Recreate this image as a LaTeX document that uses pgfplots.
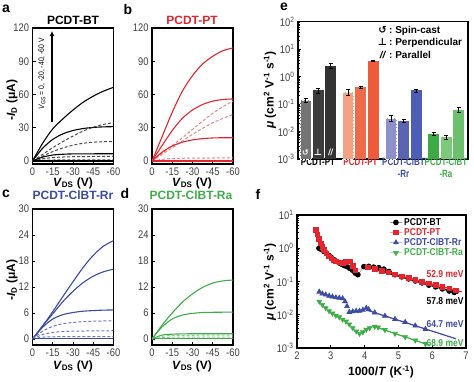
\documentclass[border=0pt]{standalone}
\usepackage{pgfplots}
\pgfplotsset{compat=1.18}
\usetikzlibrary{arrows.meta}
\usepackage{fontspec}
\setmainfont{Liberation Sans}
\newfontfamily\cf[FakeStretch=0.85]{Liberation Sans}
\newfontfamily\ccf[FakeStretch=0.76]{Liberation Sans}
\newfontfamily\dvs{DejaVu Sans}
\definecolor{cred}{HTML}{E3262D}
\definecolor{cpink}{HTML}{EC8585}
\definecolor{cblue}{HTML}{3B4BA3}
\definecolor{cblueL}{HTML}{6F78C2}
\definecolor{cgreen}{HTML}{3FAE49}
\definecolor{cgreenL}{HTML}{86CF8A}
\definecolor{tk}{HTML}{404040}
\definecolor{g1a}{HTML}{747474}
\definecolor{g1b}{HTML}{3C3C3C}
\definecolor{g1c}{HTML}{333333}
\definecolor{g2a}{HTML}{F3A383}
\definecolor{g2b}{HTML}{EE6B4A}
\definecolor{g2c}{HTML}{EE5B3A}
\definecolor{g3a}{HTML}{8C91CC}
\definecolor{g3b}{HTML}{5A64B0}
\definecolor{g3c}{HTML}{4D5DB5}
\definecolor{g4a}{HTML}{3DAA46}
\definecolor{g4b}{HTML}{7DC97B}
\definecolor{g4c}{HTML}{6CBF6C}
\newcommand{\tf}{\cf\fontsize{11}{11}\selectfont}
\newcommand{\lf}{\bfseries\fontsize{12}{12}\selectfont}
\newcommand{\pf}{\bfseries\fontsize{14}{14}\selectfont}
\pgfplotsset{
  base/.style={scale only axis, tick pos=left, tick align=inside, major tick length=3pt, minor tick length=1.8pt,
    axis line style={line width=1.1pt, black}, every tick/.style={black, line width=0.7pt},
    ticklabel style={font=\tf, text=tk}, clip=true},
  ivax/.style={base, width=81pt, height=136pt, xmin=0, xmax=60,
    xtick={0,15,30,45,60}, xticklabels={0,-15,-30,-45,-60}},
  topr/.style={ymin=-2.7, ymax=120, ytick={0,30,60,90,120}, yticklabels={0,30,60,90,120}},
  botr/.style={ymin=-1.4, ymax=30, ytick={0,6,12,18,24,30}, yticklabels={0,6,12,18,24,30}},
  sl/.style={smooth, line width=1.1pt, #1},
  dl/.style={smooth, line width=1.0pt, dash pattern=on 3pt off 2pt, #1},
  ebar/.style={ybar, bar width=11pt, bar shift=0pt, fill=#1, error bars/.cd, y dir=both, y explicit,
    error bar style={black, solid, line width=0.8pt}, error mark options={rotate=90, black, solid, mark size=2pt, line width=0.8pt}},
}
\begin{document}
\begin{tikzpicture}
\useasboundingbox (0,0) rectangle (474pt,-381pt);
% ---------- a ----------
\begin{axis}[ivax, topr, at={(32.5pt,-164pt)}, anchor=south west]
\addplot[sl=black] coordinates {(0,0)(7.5,16)(15,29)(22.5,38)(30,46)(37.5,53)(45,58.5)(52.5,63)(60,66.5)};
\addplot[sl=black] coordinates {(0,0)(7.5,11.5)(15,19.5)(22.5,24.5)(30,27.5)(37.5,29.3)(45,30.3)(52.5,30.8)(60,31)};
\addplot[dl=black!70] coordinates {(0,0)(7.5,6)(15,12)(22.5,17.5)(30,22.5)(37.5,27)(45,30.5)(52.5,33)(60,34.6)};
\addplot[dl=black!70] coordinates {(0,0)(7.5,4.5)(15,8.5)(22.5,11.8)(30,14.3)(37.5,16)(45,17)(52.5,17.4)(60,17.6)};
\addplot[sl=black] coordinates {(0,0)(7.5,3.5)(15,5.4)(22.5,6.1)(30,6.4)(45,6.5)(60,6.6)};
\addplot[dl=black!70] coordinates {(0,0)(7.5,2)(15,3.1)(22.5,3.6)(30,3.9)(45,4.1)(60,4.2)};
\addplot[dl=black!70] coordinates {(0,0)(7.5,0.6)(15,0.9)(30,1.0)(60,1.1)};
\addplot[sl=black] coordinates {(0,0)(60,0)};
\end{axis}
% ---------- b ----------
\begin{axis}[ivax, topr, at={(152pt,-164pt)}, anchor=south west]
\addplot[sl=cred] coordinates {(0,0)(7.5,22)(15,44)(22.5,63)(30,77)(37.5,87.5)(45,94.5)(52.5,99.5)(60,102)};
\addplot[sl=cred] coordinates {(0,0)(7.5,14)(15,27.5)(22.5,38.5)(30,46)(37.5,51)(45,54)(52.5,55.5)(60,56)};
\addplot[dl=cpink] coordinates {(0,0)(7.5,7)(15,14)(22.5,21)(30,28.5)(37.5,36)(45,43)(52.5,49)(60,54)};
\addplot[dl=cpink] coordinates {(0,0)(7.5,6)(15,12)(22.5,18)(30,24)(37.5,29.5)(45,34.5)(52.5,38.5)(60,42)};
\addplot[sl=cred] coordinates {(0,0)(7.5,8)(15,13.5)(22.5,17)(30,19)(37.5,20.2)(45,20.8)(52.5,21)(60,21)};
\addplot[dl=cpink] coordinates {(0,0)(7.5,1.5)(15,2.2)(30,2.6)(60,2.8)};
\addplot[sl=cred] coordinates {(0,0)(60,0)};
\end{axis}
% ---------- c ----------
\begin{axis}[ivax, botr, at={(32.5pt,-345pt)}, anchor=south west]
\addplot[sl=cblue] coordinates {(0,0)(7.5,3)(15,6.3)(22.5,9.8)(30,13.2)(37.5,16.5)(45,19.3)(52.5,21.4)(60,22.7)};
\addplot[sl=cblue] coordinates {(0,0)(7.5,3)(15,5.8)(22.5,8.6)(30,11)(37.5,13)(45,14.5)(52.5,15.5)(60,16.1)};
\addplot[sl=cblue] coordinates {(0,0)(7.5,2.7)(15,4.6)(22.5,5.6)(30,6.1)(37.5,6.4)(45,6.55)(52.5,6.65)(60,6.7)};
\addplot[dl=cblueL] coordinates {(0,0)(7.5,1.8)(15,2.9)(22.5,3.5)(30,3.8)(37.5,4)(45,4.1)(60,4.2)};
\addplot[dl=cblueL] coordinates {(0,0)(7.5,1)(15,1.5)(22.5,1.7)(30,1.8)(60,1.9)};
\addplot[dl=cblueL] coordinates {(0,0)(7.5,0.4)(15,0.5)(60,0.55)};
\addplot[sl=cblue] coordinates {(0,0)(60,0)};
\end{axis}
% ---------- d ----------
\begin{axis}[ivax, botr, at={(152pt,-345pt)}, anchor=south west]
\addplot[sl=cgreen] coordinates {(0,0)(7.5,3.2)(15,6)(22.5,8.5)(30,10.4)(37.5,11.9)(45,12.9)(52.5,13.4)(60,13.6)};
\addplot[sl=cgreen] coordinates {(0,0)(7.5,2.8)(15,4.6)(22.5,5.5)(30,5.9)(37.5,6.1)(45,6.15)(60,6.2)};
\addplot[sl=cgreen] coordinates {(0,0)(7.5,0.9)(15,1.1)(30,1.2)(60,1.2)};
\addplot[dl=cgreenL] coordinates {(0,0)(7.5,0.6)(15,0.8)(60,0.9)};
\addplot[dl=cgreenL] coordinates {(0,0)(7.5,0.3)(15,0.4)(60,0.45)};
\addplot[sl=cgreen] coordinates {(0,0)(60,0)};
\end{axis}
% ---------- e ----------
\begin{axis}[base, at={(298pt,-159pt)}, anchor=south west, width=170pt, height=137.5pt,
  ymode=log, ymin=1e-3, ymax=100, log origin y=infty, xmin=0, xmax=170,
  ytick={1e-3,1e-2,1e-1,1,10,100},
  yticklabels={10\textsuperscript{-3},10\textsuperscript{-2},10\textsuperscript{-1},10\textsuperscript{0},10\textsuperscript{1},10\textsuperscript{2}},
  xtick={20,62.5,105.5,148}, xtick style={draw=none},
  xticklabels={\textcolor{black}{PCDT-PT},\textcolor{cred}{PCDT-PT},{\textcolor{cblue}{PCDT-ClBT}\\\textcolor{cblue}{-Rr}},{\textcolor{cgreen}{PCDT-ClBT}\\\textcolor{cgreen}{-Ra}}},
  xticklabel style={font=\ccf\bfseries\fontsize{10.5}{12}\selectfont, align=center, yshift=2pt, inner sep=0.5pt},
]
\addplot[draw=white!80, densely dotted, ebar=g1a] coordinates {(7.5,0.135) +- (0,0.025)};
\addplot[draw=none, ebar=g1b] coordinates {(20,0.31) +- (0,0.06)};
\addplot[draw=none, ebar=g1c] coordinates {(32.5,2.5) +- (0,0.5)};
\addplot[draw=white!80, densely dotted, ebar=g2a] coordinates {(50,0.27) +- (0,0.06)};
\addplot[draw=none, ebar=g2b] coordinates {(62.5,0.41) +- (0,0.03)};
\addplot[draw=none, ebar=g2c] coordinates {(75,3.8) +- (0,0.2)};
\addplot[draw=white!80, densely dotted, ebar=g3a] coordinates {(93,0.030) +- (0,0.007)};
\addplot[draw=none, ebar=g3b] coordinates {(105.5,0.025) +- (0,0.003)};
\addplot[draw=none, ebar=g3c] coordinates {(118,0.31) +- (0,0.04)};
\addplot[draw=none, ebar=g4a] coordinates {(135.5,0.0081) +- (0,0.0008)};
\addplot[draw=none, ebar=g4b] coordinates {(148,0.0063) +- (0,0.0012)};
\addplot[draw=none, ebar=g4c] coordinates {(160.5,0.062) +- (0,0.012)};
\node[text=white, font=\dvs\bfseries\fontsize{8}{8}\selectfont] at (axis cs:7.5,0.0017) {↺};
\node[text=white, font=\dvs\bfseries\fontsize{9}{9}\selectfont] at (axis cs:20,0.0017) {⊥};
\node[text=white, font=\cf\bfseries\itshape\fontsize{9}{9}\selectfont] at (axis cs:32.5,0.0017) {//};
\end{axis}
% ---------- f ----------
\begin{axis}[base, at={(297pt,-348pt)}, anchor=south west, width=169pt, height=133pt,
  ymode=log, ymin=1e-3, ymax=10, xmin=2, xmax=7,
  xtick={2,3,4,5,6,7}, xticklabels={2,3,4,5,6,7},
  ytick={1e-3,1e-2,1e-1,1,10},
  yticklabels={10\textsuperscript{-3},10\textsuperscript{-2},10\textsuperscript{-1},10\textsuperscript{0},10\textsuperscript{1}},
  legend style={draw=none, fill=none, at={(1,1)}, anchor=north east, inner sep=1pt,
    font=\cf\bfseries\fontsize{10}{10}\selectfont, row sep=-2.5pt},
  legend cell align=left,
  legend image code/.code={\draw[mark repeat=2, mark phase=2, #1] plot coordinates {(0pt,0pt) (6pt,0pt) (12pt,0pt)};},
]
\addplot[draw=black!40, line width=0.6pt, mark=*, mark size=2.5pt, mark options={fill=black, draw=black, solid}] coordinates {
(2.65,1.00)(2.72,0.92)(2.80,0.80)(2.87,0.72)(2.95,0.60)(3.02,0.52)(3.10,0.45)(3.17,0.40)(3.25,0.36)(3.32,0.33)(3.40,0.30)(3.48,0.28)(3.56,0.25)(3.64,0.22)(3.72,0.18)(3.80,0.16)
(3.98,0.28)(4.12,0.285)(4.27,0.27)(4.42,0.26)(4.57,0.235)(4.72,0.20)(4.90,0.16)(5.10,0.138)(5.30,0.12)(5.50,0.104)(5.70,0.091)(5.90,0.078)(6.10,0.069)(6.30,0.060)(6.50,0.052)(6.65,0.047)};
\addplot[draw=cred!40, line width=0.6pt, mark=square*, mark size=2.3pt, mark options={fill=cred, draw=cred, solid}] coordinates {
(2.55,3.6)(2.60,2.6)(2.65,1.9)(2.70,1.4)(2.75,1.1)(2.80,0.88)(2.87,0.70)(2.94,0.58)(3.01,0.50)(3.08,0.44)(3.15,0.40)(3.25,0.38)(3.35,0.37)(3.45,0.39)(3.57,0.41)(3.65,0.30)(3.72,0.22)
(4.10,0.27)(4.30,0.24)(4.50,0.21)(4.70,0.19)(4.90,0.165)(5.10,0.145)(5.30,0.13)(5.50,0.114)(5.70,0.10)(5.90,0.089)(6.10,0.079)(6.30,0.070)(6.50,0.062)(6.70,0.055)};
\addplot[draw=cblue!40, line width=0.6pt, mark=triangle*, mark size=2.8pt, mark options={fill=cblue, draw=cblue, solid}] coordinates {
(2.66,0.049)(2.75,0.043)(2.85,0.040)(2.95,0.037)(3.05,0.035)(3.15,0.033)(3.25,0.032)(3.35,0.031)(3.42,0.025)(3.48,0.018)(3.55,0.012)(3.65,0.0125)(3.75,0.013)(3.85,0.013)(3.95,0.014)(4.05,0.016)(4.12,0.0145)
(4.30,0.0116)(4.60,0.0092)(4.90,0.0074)(5.20,0.0060)(5.50,0.0047)(5.80,0.0037)};
\addplot[draw=cgreen!40, line width=0.6pt, mark=triangle*, mark size=2.8pt, mark options={fill=cgreen, draw=cgreen, solid, rotate=180}] coordinates {
(2.66,0.025)(2.75,0.020)(2.85,0.016)(2.95,0.013)(3.05,0.011)(3.15,0.0095)(3.25,0.0085)(3.35,0.0072)(3.45,0.0063)(3.55,0.0052)(3.65,0.0040)(3.75,0.0032)(3.85,0.0027)(3.95,0.0030)(4.05,0.0036)(4.15,0.0040)(4.30,0.0044)(4.40,0.0042)
(4.60,0.0035)(4.90,0.0027)(5.20,0.00215)(5.50,0.0017)(5.80,0.00133)};
\addplot[forget plot, cred, line width=1.2pt] coordinates {(4.0,0.285)(6.87,0.049)};
\addplot[forget plot, black, line width=1.2pt] coordinates {(4.0,0.28)(6.77,0.044)};
\addplot[forget plot, cblue, line width=1.2pt] coordinates {(4.1,0.0134)(6.7,0.0019)};
\addplot[forget plot, cgreen, line width=1.2pt] coordinates {(4.3,0.0044)(5.93,0.0012)};
\legend{\textcolor{black}{PCDT-BT},\textcolor{cred}{PCDT-PT},\textcolor{cblue}{PCDT-ClBT-Rr},\textcolor{cgreen}{PCDT-ClBT-Ra}}
\end{axis}
% ---------- texts ----------
\node[font=\pf] at (6pt,-9pt) {a};
\node[font=\pf] at (128pt,-9pt) {b};
\node[font=\pf] at (284pt,-7pt) {e};
\node[font=\pf] at (6pt,-194pt) {c};
\node[font=\pf] at (125pt,-193pt) {d};
\node[font=\pf] at (258pt,-194pt) {f};
\node[font=\lf, inner sep=0pt] at (73pt,-20pt) {PCDT-BT};
\node[font=\lf, text=cred, inner sep=0pt] at (192pt,-20pt) {PCDT-PT};
\node[font=\lf, text=cblue, inner sep=0pt] at (73pt,-195pt) {PCDT-ClBT-Rr};
\node[font=\lf, text=cgreen, inner sep=0pt] at (191pt,-195pt) {PCDT-ClBT-Ra};
\node[font=\lf, rotate=90, inner sep=0pt] at (12pt,-100pt) {-\textit{I}\textsubscript{D} (μA)};
\node[font=\lf, rotate=90, inner sep=0pt] at (12pt,-280pt) {-\textit{I}\textsubscript{D} (μA)};
\node[font=\lf, inner sep=0pt] at (73pt,-183pt) {\textit{V}\textsubscript{DS} (V)};
\node[font=\lf, inner sep=0pt] at (192pt,-183pt) {\textit{V}\textsubscript{DS} (V)};
\node[font=\lf, inner sep=0pt] at (73pt,-366pt) {\textit{V}\textsubscript{DS} (V)};
\node[font=\lf, inner sep=0pt] at (192pt,-366pt) {\textit{V}\textsubscript{DS} (V)};
\draw[-{Latex[length=5pt,width=5pt]}, line width=1.2pt] (52pt,-122pt) -- (52pt,-31pt);
\node[rotate=90, font=\cf\fontsize{8}{8}\selectfont] at (42pt,-74pt) {\textit{V}\textsubscript{GS} = 0, -20, -40, -60 V};
\node[font=\lf, rotate=90] at (270pt,-90pt) {\textit{μ} (cm\textsuperscript{2} V\textsuperscript{-1} s\textsuperscript{-1})};
\node[font=\lf, rotate=90] at (270pt,-282pt) {\textit{μ} (cm\textsuperscript{2} V\textsuperscript{-1} s\textsuperscript{-1})};
\node[font=\lf] at (381pt,-372pt) {1000/\textit{T} (K\textsuperscript{-1})};
\node[anchor=west, font=\bfseries\fontsize{10}{10}\selectfont] at (374pt,-31pt) {\makebox[10pt]{\dvs\bfseries ↺}\,:\ Spin-cast};
\node[anchor=west, font=\bfseries\fontsize{10}{10}\selectfont] at (374pt,-43pt) {\makebox[10pt]{\dvs\bfseries ⊥}\,:\ Perpendicular};
\node[anchor=west, font=\bfseries\fontsize{10}{10}\selectfont] at (374pt,-55pt) {\makebox[10pt]{\itshape //}\,:\ Parallel};
\node[anchor=east, font=\cf\bfseries\fontsize{10}{10}\selectfont, text=cred] at (467pt,-274pt) {52.9 meV};
\node[anchor=east, font=\cf\bfseries\fontsize{10}{10}\selectfont, text=black] at (467pt,-301pt) {57.8 meV};
\node[anchor=east, font=\cf\bfseries\fontsize{10}{10}\selectfont, text=cblue] at (467pt,-324pt) {64.7 meV};
\node[anchor=east, font=\cf\bfseries\fontsize{10}{10}\selectfont, text=cgreen] at (467pt,-343pt) {68.9 meV};
\end{tikzpicture}
\end{document}
